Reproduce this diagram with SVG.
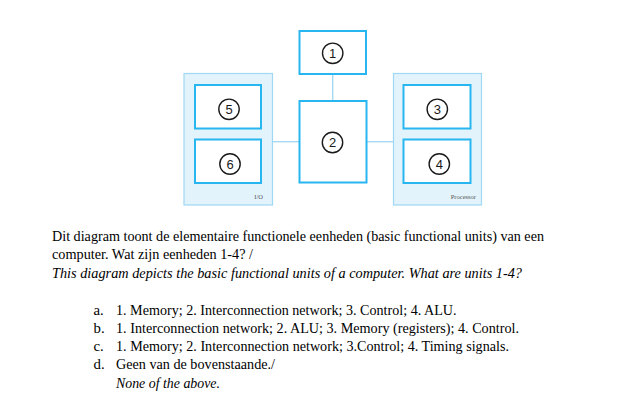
<svg xmlns="http://www.w3.org/2000/svg" width="635" height="403" viewBox="0 0 635 403">
<style>
.cont{fill:#e3f3fc;stroke:#9fd8f3;stroke-width:1.2}
.box{fill:#fff;stroke:#27b6ef;stroke-width:2}
.circ{fill:none;stroke:#1a1a1a;stroke-width:1.4}
.num{font-family:"Liberation Sans",Arial,sans-serif;font-size:13px;fill:#1a1a1a;text-anchor:middle}
.lbl{font-family:"Liberation Serif","Times New Roman",serif;font-size:6.5px;fill:#555;text-anchor:end}
.conn{stroke:#9fd8f3;stroke-width:1.3;fill:none}
.t{font-family:"Liberation Serif","Times New Roman",serif;font-size:14.8px;fill:#000}
.i{font-style:italic}
</style>
<rect width="635" height="403" fill="#fff"/>
<g id="io">
<rect class="cont" x="184" y="73.5" width="88.5" height="131.5"/>
<text class="lbl" x="263" y="199">I/O</text>
</g>
<g id="processor">
<rect class="cont" x="393.5" y="73.5" width="88" height="131.5"/>
<text class="lbl" x="476" y="199">Processor</text>
</g>
<g id="connectors">
<line class="conn" x1="332.7" y1="74" x2="332.7" y2="101"/>
<line class="conn" x1="272.5" y1="141.7" x2="299.5" y2="141.7"/>
<line class="conn" x1="366.7" y1="141.7" x2="393.5" y2="141.7"/>
</g>
<g id="unit1">
<rect class="box" x="299.5" y="31" width="66.5" height="43"/>
<circle class="circ" cx="332.7" cy="53.3" r="10.2"/>
<text class="num" x="332.7" y="58">1</text>
</g>
<g id="unit2">
<rect class="box" x="299.5" y="101" width="67" height="81.5"/>
<circle class="circ" cx="332.5" cy="142.5" r="10.2"/>
<text class="num" x="332.5" y="147.2">2</text>
</g>
<g id="unit5">
<rect class="box" x="195" y="85" width="66" height="43.5"/>
<circle class="circ" cx="229" cy="109.3" r="10.2"/>
<text class="num" x="229" y="114">5</text>
</g>
<g id="unit6">
<rect class="box" x="195" y="139.5" width="66" height="43.5"/>
<circle class="circ" cx="230" cy="164" r="10.2"/>
<text class="num" x="230" y="168.7">6</text>
</g>
<g id="unit3">
<rect class="box" x="403.5" y="85" width="67" height="43.5"/>
<circle class="circ" cx="437.3" cy="109.3" r="10.2"/>
<text class="num" x="437.3" y="114">3</text>
</g>
<g id="unit4">
<rect class="box" x="403.5" y="139.5" width="67" height="43.5"/>
<circle class="circ" cx="439.3" cy="164" r="10.2"/>
<text class="num" x="439.3" y="168.7">4</text>
</g>
<g id="question">
<text class="t" x="52" y="241" textLength="492" lengthAdjust="spacingAndGlyphs">Dit diagram toont de elementaire functionele eenheden (basic functional units) van een</text>
<text class="t" x="52" y="259" textLength="201" lengthAdjust="spacingAndGlyphs">computer. Wat zijn eenheden 1-4? /</text>
<text class="t i" x="52" y="277.5" textLength="470" lengthAdjust="spacingAndGlyphs">This diagram depicts the basic functional units of a computer. What are units 1-4?</text>
<text class="t" x="93.5" y="315">a.</text>
<text class="t" x="116" y="315" textLength="340.5" lengthAdjust="spacingAndGlyphs">1. Memory; 2. Interconnection network; 3. Control; 4. ALU.</text>
<text class="t" x="93.5" y="333">b.</text>
<text class="t" x="116" y="333" textLength="403" lengthAdjust="spacingAndGlyphs">1. Interconnection network; 2. ALU; 3. Memory (registers); 4. Control.</text>
<text class="t" x="93.5" y="351">c.</text>
<text class="t" x="116" y="351" textLength="393" lengthAdjust="spacingAndGlyphs">1. Memory; 2. Interconnection network; 3.Control; 4. Timing signals.</text>
<text class="t" x="93.5" y="369">d.</text>
<text class="t" x="116" y="369" textLength="159" lengthAdjust="spacingAndGlyphs">Geen van de bovenstaande./</text>
<text class="t i" x="116" y="387.5" textLength="104" lengthAdjust="spacingAndGlyphs">None of the above.</text>
</g>
</svg>
